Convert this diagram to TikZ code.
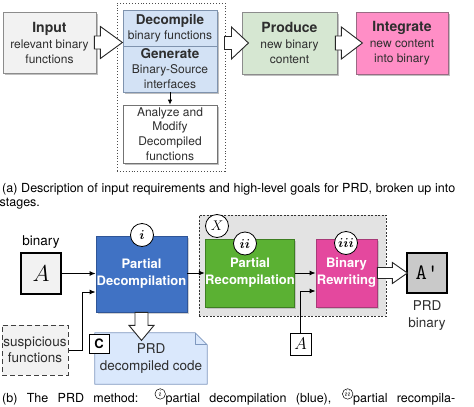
\documentclass[tikz,border=0pt]{standalone}
\usepackage{fix-cm}
\usepackage{fontspec}
\setmainfont{TeX Gyre Heros}
\usetikzlibrary{shadows,calc,arrows.meta,backgrounds}
\definecolor{inputgray}{HTML}{F2F2F2}
\definecolor{lblue}{HTML}{D3E2F5}
\definecolor{lblueborder}{HTML}{7F93AE}
\definecolor{lgreen}{HTML}{D6E7D2}
\definecolor{lpink}{HTML}{FF8EC6}
\definecolor{pinkborder}{HTML}{9A6A84}
\definecolor{pdblue}{HTML}{4072C4}
\definecolor{pdborder}{HTML}{2F5597}
\definecolor{prgreen}{HTML}{5BB133}
\definecolor{prborder}{HTML}{3E7E22}
\definecolor{brpink}{HTML}{E4489E}
\definecolor{brborder}{HTML}{A83A78}
\definecolor{docblue}{HTML}{DAE8FC}
\definecolor{docborder}{HTML}{7E98BF}
\definecolor{txt}{HTML}{2E2E2E}
\newcommand{\ttlA}{\fontsize{14}{16}\selectfont\bfseries}
\newcommand{\ttlB}{\fontsize{13.5}{16}\selectfont\bfseries}
\newcommand{\capcirc}[2]{\tikz[baseline=-0.8ex]\node[circle,draw,line width=0.5pt,inner sep=0pt,minimum size=10.5pt,font=\fontsize{8.5}{8.5}\selectfont] (#1) {$#2$};}
\begin{document}
\begin{tikzpicture}[x=1pt,y=-1pt,
  box/.style={rectangle, inner sep=0pt, align=center, text=txt},
  sh/.style={drop shadow={shadow xshift=2pt, shadow yshift=-2pt, fill=black!45, opacity=0.55}},
  shb/.style={drop shadow={shadow xshift=1.5pt, shadow yshift=-1.5pt, fill=black!40, opacity=0.45}},
  topfont/.style={font=\fontsize{12}{15}\selectfont},
  botfont/.style={font=\fontsize{13.5}{16.5}\selectfont},
  conn/.style={-{Latex[length=6pt,width=5pt]}, line width=0.9pt},
  blk/.style={draw=black!85, fill=white, line width=0.9pt, line join=miter},
  numc/.style={circle, draw=black, fill=white, line width=0.8pt, minimum size=23, inner sep=0pt},
  colbox/.style={rectangle, inner sep=0pt, align=center, text=white, font=\fontsize{13}{17}\selectfont\bfseries, minimum height=68}
]
\useasboundingbox (0,0) rectangle (474,407);

% ---------------- (a) ----------------
\node[box, sh, topfont, draw=black!45, fill=inputgray, line width=0.8pt, minimum width=93, minimum height=61] (input) at (49.5,42.5)
  {{\ttlA Input}\\[1pt]relevant binary\\functions};

\node[draw=black!70, dotted, line width=0.9pt, fill=white, minimum width=108, minimum height=168] (stage) at (171,87) {};

\node[box, sh, topfont, draw=lblueborder, fill=lblue, line width=0.8pt, minimum width=94, minimum height=36] (decomp) at (170,28)
  {{\ttlB Decompile}\\binary functions};
\node[box, sh, topfont, draw=lblueborder, fill=lblue, line width=0.8pt, minimum width=94, minimum height=46] (gen) at (170,69)
  {{\ttlB Generate}\\Binary-Source\\interfaces};
\node[box, sh, font=\fontsize{12}{14.7}\selectfont, draw=black!55, fill=white, line width=0.8pt, minimum width=94, minimum height=58] (analyze) at (170,134)
  {Analyze and\\Modify\\Decompiled\\functions};
\draw[-{Latex[length=5pt,width=4.5pt]}, line width=0.8pt] (gen.south) -- (analyze.north);

\node[box, sh, topfont, draw=black!45, fill=lgreen, line width=0.8pt, minimum width=95, minimum height=62] (produce) at (289.5,43)
  {{\ttlA Produce}\\[1pt]new binary\\content};
\node[box, sh, topfont, draw=pinkborder, fill=lpink, line width=0.8pt, minimum width=92, minimum height=62] (integrate) at (402,43)
  {{\ttlA Integrate}\\[1pt]new content\\into binary};

% block arrows (a)
\draw[blk] (input.east) ++(-2,-6.5) -- ++(6,0) -- ++(0,-9.5) -- ++(22,16) -- ++(-22,16) -- ++(0,-9.5) -- ++(-6,0) -- cycle;
\draw[blk] (stage.east |- produce.west) ++(-1,-6.5) -- ++(7,0) -- ++(0,-9.5) -- ++(17,16) -- ++(-17,16) -- ++(0,-9.5) -- ++(-7,0) -- cycle;
\draw[blk] (produce.east) ++(-2,-7) -- ++(6,0) -- ++(0,-9) -- ++(21,16) -- ++(-21,16) -- ++(0,-9) -- ++(-6,0) -- cycle;

\node[anchor=base west, inner sep=0pt, font=\fontsize{12.5}{15}\selectfont] (capa1) at (2,192)
  {\makebox[453pt][s]{(a) Description of input requirements and high-level goals for PRD, broken up into}};
\node[anchor=base west, inner sep=0pt, font=\fontsize{12.5}{15}\selectfont] (capa2) at (-0.5,206.5) {stages.};

% ---------------- (b) ----------------
\node[botfont, inner sep=0pt] (binlbl) at (41,242) {binary};
\node[draw=black, line width=1.3pt, fill=inputgray, minimum width=40, minimum height=41, inner sep=0pt, font=\fontsize{23}{23}\selectfont] (A) at (41,273.5) {$A$};

\node[box, shb, draw=pdborder, fill=pdblue, line width=0.8pt, text=white, font=\fontsize{13}{17}\selectfont\bfseries, minimum width=91, minimum height=76] (pd) at (141.5,274)
  {Partial\\Decompilation};
\node[numc, font=\fontsize{13}{13}\selectfont\boldmath] (ci) at (142,235) {$i$};

\node[box, draw=black!75, dash pattern=on 5pt off 3pt, fill=inputgray, line width=1pt, botfont, minimum width=66, minimum height=50] (susp) at (35,350)
  {suspicious\\functions};

\draw[conn] (A.east) -- (A.east -| pd.west);
\draw[conn] (susp.east) -- ++(14,0) |- ($(pd.west)+(0,18)$);

% document
\node[box, botfont, minimum width=112, minimum height=51] (doc) at (151,358.5) {PRD\\decompiled code};
\begin{scope}[on background layer]
\draw[docborder, fill=docblue, line width=0.8pt, line join=round]
  (doc.north west) -- ($(doc.north east)+(-12,0)$) -- ($(doc.north east)+(0,12)$) -- (doc.south east) -- (doc.south west) -- cycle;
\end{scope}
\draw[docborder, line width=0.8pt, line join=round] ($(doc.north east)+(-12,0)$) -- ++(0,12) -- ++(12,0);
\node[draw=black, fill=white, line width=0.9pt, minimum width=20, minimum height=19, inner sep=0pt, font=\fontsize{13}{13}\selectfont\bfseries] (C) at (99,343.5) {C};

\draw[blk] (pd.south) ++(-6.5,0) -- ++(0,13) -- ++(-6,0) -- ++(12.5,15) -- ++(12.5,-15) -- ++(-6,0) -- ++(0,-13) -- cycle;

% region X
\node[draw=black!80, dash pattern=on 2pt off 1.5pt, fill=black!11, line width=1pt, minimum width=187, minimum height=101] (xreg) at (292.5,265.5) {};
\node[numc, font=\fontsize{14}{14}\selectfont] (cx) at (217,226) {$X$};

\node[colbox, shb, draw=prborder, fill=prgreen, line width=0.8pt, minimum width=86] (pr) at (250,273) {Partial\\Recompilation};
\node[colbox, shb, draw=brborder, fill=brpink, line width=0.8pt, minimum width=61] (br) at (346.5,273) {Binary\\Rewriting};
\node[numc, font=\fontsize{13}{13}\selectfont\boldmath] (cii) at (245,243.5) {$ii$};
\node[numc, font=\fontsize{13}{13}\selectfont\boldmath] (ciii) at (346,243) {$iii$};

\draw[conn] (pd.east |- pr.west) -- (pr.west);
\draw[conn] (pr.east) -- (br.west);

\node[draw=black, fill=white, line width=0.9pt, minimum width=21, minimum height=22, inner sep=0pt, font=\fontsize{17}{17}\selectfont] (Asmall) at (300.5,344) {$A$};
\draw[conn] (Asmall.north) |- ($(br.west)+(0,18)$);

\node[draw=black, line width=1.3pt, fill=black!21, minimum width=40, minimum height=40, inner sep=0pt, font=\fontsize{22}{22}\selectfont\ttfamily] (Ap) at (427,273) {A\textquotesingle};
\draw[blk] (br.east) ++(0,-5.5) -- ++(15,0) -- ++(0,-5) -- ++(15,10.5) -- ++(-15,10.5) -- ++(0,-5) -- ++(-15,0) -- cycle;
\node[box, botfont] (prdbin) at (427,315.5) {PRD\\binary};

\node[anchor=base west, inner sep=0pt, font=\fontsize{12.5}{15}\selectfont] (capb) at (2,402)
  {\makebox[453pt][s]{(b) The PRD method: \capcirc{capci1}{i}partial decompilation (blue), \capcirc{capci2}{ii}partial recompila-}};
\end{tikzpicture}
\end{document}
